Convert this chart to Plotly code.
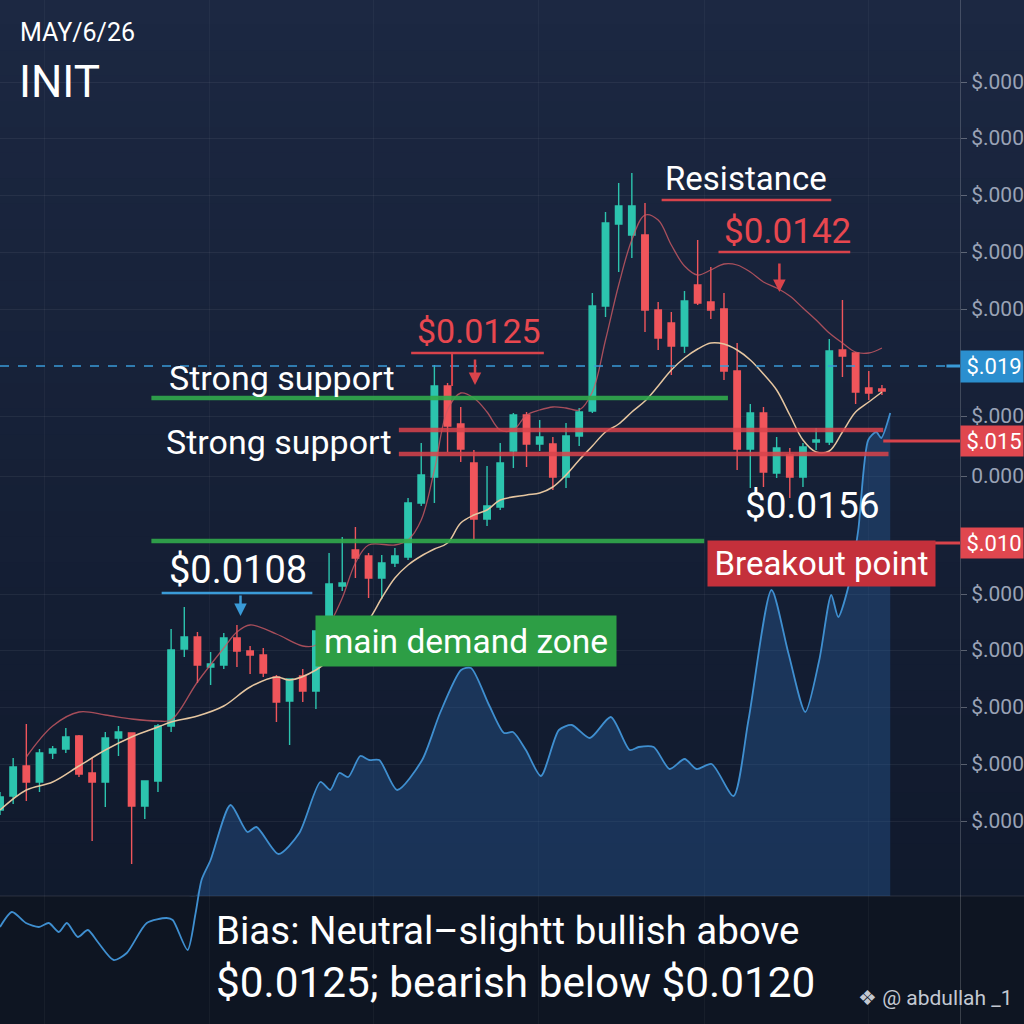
import plotly.graph_objects as go
import numpy as np

# ---- candles (one per bar, index 0..67), prices in $ ----
bars = list(range(68))

opens = [0.01190, 0.01204, 0.01234, 0.01218, 0.01247, 0.01251, 0.01264, 0.01227, 0.01218, 0.01262,
         0.01267, 0.01194, 0.01219, 0.01274, 0.01351, 0.01363, 0.01333, 0.01335, 0.01362, 0.01349,
         0.01345, 0.01323, 0.01299, 0.01324, 0.01309, 0.01383, 0.01414, 0.01450, 0.01444, 0.01422,
         0.01437, 0.01443, 0.01497, 0.01523, 0.01614, 0.01576, 0.01537, 0.01481, 0.01493, 0.01549,
         0.01585, 0.01556, 0.01556, 0.01523, 0.01564, 0.01589, 0.01694, 0.01776, 0.01765, 0.01765,
         0.01690, 0.01677, 0.01654, 0.01715, 0.01698, 0.01691, 0.01629, 0.01551, 0.01587, 0.01527,
         0.01545, 0.01523, 0.01558, 0.01558, 0.01650, 0.01647, 0.01612, 0.01611]

highs = [0.01208, 0.01242, 0.01276, 0.01251, 0.01254, 0.01272, 0.01265, 0.01242, 0.01268, 0.01274,
         0.01267, 0.01219, 0.01276, 0.01371, 0.01393, 0.01368, 0.01348, 0.01367, 0.01375, 0.01354,
         0.01352, 0.01325, 0.01321, 0.01331, 0.01369, 0.01447, 0.01463, 0.01473, 0.01447, 0.01445,
         0.01452, 0.01502, 0.01557, 0.01635, 0.01617, 0.01593, 0.01550, 0.01534, 0.01557, 0.01587,
         0.01588, 0.01580, 0.01563, 0.01577, 0.01592, 0.01707, 0.01788, 0.01817, 0.01827, 0.01797,
         0.01698, 0.01688, 0.01709, 0.01760, 0.01733, 0.01707, 0.01657, 0.01596, 0.01593, 0.01563,
         0.01552, 0.01557, 0.01572, 0.01661, 0.01700, 0.01648, 0.01629, 0.01615]

lows = [0.01185, 0.01196, 0.01199, 0.01208, 0.01241, 0.01247, 0.01223, 0.01159, 0.01193, 0.01244,
        0.01136, 0.01181, 0.01208, 0.01268, 0.01343, 0.01317, 0.01315, 0.01331, 0.01333, 0.01326,
        0.01323, 0.01278, 0.01255, 0.01298, 0.01291, 0.01383, 0.01409, 0.01422, 0.01402, 0.01401,
        0.01433, 0.01440, 0.01494, 0.01497, 0.01548, 0.01538, 0.01460, 0.01474, 0.01490, 0.01532,
        0.01533, 0.01549, 0.01510, 0.01512, 0.01554, 0.01587, 0.01683, 0.01728, 0.01742, 0.01668,
        0.01650, 0.01625, 0.01647, 0.01695, 0.01681, 0.01620, 0.01530, 0.01512, 0.01513, 0.01522,
        0.01502, 0.01513, 0.01550, 0.01555, 0.01623, 0.01596, 0.01600, 0.01605]

closes = [0.01203, 0.01233, 0.01218, 0.01247, 0.01251, 0.01263, 0.01226, 0.01218, 0.01262, 0.01268,
          0.01194, 0.01219, 0.01274, 0.01350, 0.01363, 0.01335, 0.01336, 0.01362, 0.01349, 0.01345,
          0.01327, 0.01298, 0.01321, 0.01309, 0.01369, 0.01416, 0.01417, 0.01442, 0.01422, 0.01437,
          0.01444, 0.01497, 0.01525, 0.01614, 0.01574, 0.01551, 0.01481, 0.01494, 0.01537, 0.01585,
          0.01556, 0.01563, 0.01523, 0.01564, 0.01588, 0.01694, 0.01777, 0.01794, 0.01794, 0.01690,
          0.01662, 0.01654, 0.01699, 0.01697, 0.01690, 0.01629, 0.01551, 0.01587, 0.01528, 0.01552,
          0.01523, 0.01553, 0.01560, 0.01649, 0.01644, 0.01608, 0.01607, 0.01609]

# ---- moving averages ----
fast_ma_x = [2, 4, 6, 8, 10, 12, 13, 15, 17, 18, 19, 21, 23, 24, 25, 26, 27, 28, 30, 31, 32, 33, 34,
             35, 36, 37, 38, 39, 40, 41, 42, 43, 44, 45, 46, 47, 48, 49, 50, 51, 52, 53, 54, 55, 56,
             57, 58, 59, 60, 61, 62, 63, 64, 65, 66, 67]
fast_ma = [0.01243, 0.01274, 0.01288, 0.01285, 0.01281, 0.01279, 0.01280, 0.01318, 0.01352, 0.01368,
           0.01375, 0.01366, 0.01354, 0.01355, 0.01375, 0.01402, 0.01437, 0.01455, 0.01455, 0.01460,
           0.01480, 0.01530, 0.01590, 0.01607, 0.01602, 0.01588, 0.01570, 0.01570, 0.01585, 0.01590,
           0.01593, 0.01592, 0.01590, 0.01608, 0.01660, 0.01715, 0.01760, 0.01785, 0.01780, 0.01755,
           0.01734, 0.01725, 0.01730, 0.01736, 0.01735, 0.01728, 0.01718, 0.01712, 0.01704, 0.01692,
           0.01680, 0.01667, 0.01657, 0.01648, 0.01647, 0.01652]

slow_ma_x = [0, 2, 4, 6, 8, 10, 12, 13, 15, 17, 19, 21, 22, 24, 26, 28, 29, 30, 31, 32, 33, 34, 35,
             36, 37, 38, 40, 41, 42, 43, 44, 45, 46, 47, 48, 49, 50, 51, 52, 53, 54, 55, 56, 57, 58,
             59, 60, 61, 62, 63, 64, 65, 66, 67]
slow_ma = [0.01190, 0.01210, 0.01218, 0.01234, 0.01250, 0.01263, 0.01273, 0.01278, 0.01284, 0.01294,
           0.01313, 0.01323, 0.01320, 0.01330, 0.01352, 0.01380, 0.01402, 0.01422, 0.01435, 0.01444,
           0.01451, 0.01457, 0.01477, 0.01485, 0.01490, 0.01500, 0.01505, 0.01507, 0.01513, 0.01525,
           0.01540, 0.01554, 0.01568, 0.01576, 0.01588, 0.01599, 0.01614, 0.01630, 0.01642, 0.01651,
           0.01657, 0.01656, 0.01650, 0.01640, 0.01626, 0.01610, 0.01585, 0.01560, 0.01548, 0.01549,
           0.01568, 0.01588, 0.01598, 0.01608]

# ---- overlay (volume-like area), own hidden axis ----
flow_x = [0.00, 0.91, 1.97, 2.96, 3.71, 4.47, 5.08, 5.91, 6.67, 7.43, 8.64, 9.63, 11.15, 12.66, 13.12,
          14.25, 14.86, 15.31, 16.00, 17.51, 18.80, 19.48, 21.15, 22.74, 24.34, 25.09, 25.78, 26.46,
          27.37, 28.05, 28.81, 30.17, 32.07, 33.43, 35.03, 35.78, 37.15, 38.29, 38.97, 39.95, 41.09,
          42.46, 43.44, 44.81, 46.40, 47.84, 48.52, 49.66, 50.87, 52.01, 52.92, 54.06, 55.72, 56.86,
          58.61, 59.89, 61.18, 62.24, 63.15, 63.68, 64.52, 65.20, 65.96, 66.57, 66.94, 67.63]
flow = [-3.1, -1.6, -2.7, -3.1, -2.7, -3.6, -2.7, -4.1, -3.4, -4.6, -6.4, -5.7, -2.7, -2.2, -2.4,
        -5.4, -1.7, 1.6, 3.6, 9.1, 6.4, 6.9, 4.2, 6.3, 11.4, 10.6, 12.3, 11.9,
        14.0, 13.6, 13.6, 10.6, 13.6, 18.3, 22.6, 22.8, 19.1, 16.3, 16.4, 14.6, 12.0,
        16.6, 17.1, 15.8, 17.9, 14.6, 14.9, 14.9, 12.7, 13.7, 12.7, 13.2, 10.0, 17.6,
        30.6, 24.3, 18.4, 23.6, 30.1, 27.9, 31.3, 36.6, 45.6, 46.4, 45.8, 48.3]

# ---- price levels ----
green_levels = [0.01602, 0.01459]
red_levels = [0.01570, 0.01546]
last_price = 0.01634
red_tag_levels = [0.01559, 0.01457]

axis_ticks = [0.01918, 0.01862, 0.01805, 0.01748, 0.01691, 0.01584, 0.01524,
              0.01406, 0.01350, 0.01293, 0.01236, 0.01179]
axis_labels = ["$.000", "$.000", "$.000", "$.000", "$.000", "$.000", "0.000",
               "$.000", "$.000", "$.000", "$.000", "$.000"]

GREEN = "#2cc4ae"
RED = "#f0555b"
RED_TXT = "#e8474f"
BLUE = "#3a9bd8"
LINE_GREEN = "#31aa4c"
LINE_RED = "#d8434b"
FONT = "Roboto"

W, H = 962, 1024   # plot area in pixels (right margin holds the price axis)
X_MAX = 72.93


def px(x):
    return x / W


def py(y):
    return 1 - y / H


fig = go.Figure()

# overlay area: fill clipped at its baseline, raw line on top
fig.add_trace(go.Scatter(x=flow_x, y=np.maximum(np.array(flow), 0), mode="lines",
                         line=dict(width=0, shape="spline", smoothing=0.7),
                         fill="tozeroy", fillcolor="rgba(42,100,165,0.35)",
                         yaxis="y", hoverinfo="skip", showlegend=False))
fig.add_trace(go.Scatter(x=flow_x, y=flow, mode="lines",
                         line=dict(color="#3f8fd0", width=1.8, shape="spline", smoothing=0.7),
                         yaxis="y", hoverinfo="skip", showlegend=False))

fig.add_trace(go.Candlestick(x=bars, open=opens, high=highs, low=lows, close=closes,
                             increasing=dict(line=dict(color=GREEN, width=1.4), fillcolor=GREEN),
                             decreasing=dict(line=dict(color=RED, width=1.4), fillcolor=RED),
                             whiskerwidth=0, yaxis="y2", showlegend=False))

fig.add_trace(go.Scatter(x=fast_ma_x, y=fast_ma, mode="lines",
                         line=dict(color="rgba(205,90,100,0.8)", width=1.3, shape="spline"),
                         yaxis="y2", showlegend=False))
fig.add_trace(go.Scatter(x=slow_ma_x, y=slow_ma, mode="lines",
                         line=dict(color="#e6c6a0", width=1.5, shape="spline"),
                         yaxis="y2", showlegend=False))

shapes = []
# background gradient
n_band = 40
top_c = np.array([28, 40, 66])
bot_c = np.array([15, 24, 42])
for k in range(n_band):
    c = top_c + (bot_c - top_c) * k / (n_band - 1)
    shapes.append(dict(type="rect", xref="paper", yref="paper", x0=0, x1=1.08,
                       y0=1 - (k + 1) / n_band, y1=1 - k / n_band + 0.001,
                       fillcolor="rgb(%d,%d,%d)" % tuple(c), line=dict(width=0), layer="below"))
# bottom caption panel
shapes.append(dict(type="rect", xref="paper", yref="paper", x0=0, x1=1.08, y0=0, y1=py(896),
                   fillcolor="#0e1522", line=dict(width=0), layer="below"))
shapes.append(dict(type="line", xref="paper", yref="paper", x0=0, x1=1.08, y0=py(896), y1=py(896),
                   line=dict(color="rgba(255,255,255,0.12)", width=1), layer="below"))

# support / resistance levels
shapes.append(dict(type="line", xref="x", yref="y2", x0=11.5, x1=55.3,
                   y0=green_levels[0], y1=green_levels[0],
                   line=dict(color=LINE_GREEN, width=4.5), opacity=0.9))
shapes.append(dict(type="line", xref="x", yref="y2", x0=11.5, x1=53.5,
                   y0=green_levels[1], y1=green_levels[1],
                   line=dict(color=LINE_GREEN, width=4.5), opacity=0.9))
shapes.append(dict(type="line", xref="x", yref="y2", x0=30.3, x1=67.1,
                   y0=red_levels[0], y1=red_levels[0],
                   line=dict(color=LINE_RED, width=4.5), opacity=0.85))
shapes.append(dict(type="line", xref="x", yref="y2", x0=30.3, x1=67.5,
                   y0=red_levels[1], y1=red_levels[1],
                   line=dict(color=LINE_RED, width=4.5), opacity=0.85))
shapes.append(dict(type="line", xref="x", yref="y2", x0=67.1, x1=X_MAX,
                   y0=red_tag_levels[0], y1=red_tag_levels[0],
                   line=dict(color=LINE_RED, width=3)))
shapes.append(dict(type="line", xref="x", yref="y2", x0=71.0, x1=X_MAX,
                   y0=red_tag_levels[1], y1=red_tag_levels[1],
                   line=dict(color=LINE_RED, width=3)))
shapes.append(dict(type="line", xref="x", yref="y2", x0=0, x1=X_MAX,
                   y0=last_price, y1=last_price,
                   line=dict(color=BLUE, width=1.3, dash="dash")))
shapes.append(dict(type="line", xref="x", yref="y2", x0=71.9, x1=X_MAX,
                   y0=last_price, y1=last_price,
                   line=dict(color=BLUE, width=3)))

# underlines of the callouts
for x0, x1, y, col in [(663, 833, 200, LINE_RED), (720, 852, 252, LINE_RED),
                       (412, 545, 353, LINE_RED), (162, 313, 593, BLUE)]:
    shapes.append(dict(type="line", xref="paper", yref="paper", x0=px(x0), x1=px(x1),
                       y0=py(y), y1=py(y), line=dict(color=col, width=2.5)))
shapes.append(dict(type="line", xref="paper", yref="paper", x0=px(453), x1=px(453),
                   y0=py(353), y1=py(386), line=dict(color=LINE_RED, width=2)))

ann = []


def text(x, y, s, size, color="white", anchor="center", **kw):
    ann.append(dict(x=px(x), y=py(y), xref="paper", yref="paper", text=s, showarrow=False,
                    xanchor=anchor, yanchor="middle",
                    font=dict(family=FONT, size=size, color=color), **kw))


def arrow(x, y, length, color):
    ann.append(dict(x=px(x), y=py(y), xref="paper", yref="paper", text="", showarrow=True,
                    ax=0, ay=-length, arrowhead=2, arrowsize=1, arrowwidth=2.5,
                    arrowcolor=color))


text(18, 32, "MAY/6/26", 25, anchor="left")
text(17, 82, "INIT", 44, anchor="left")
text(748, 178, "Resistance", 33)
text(789, 231, "$0.0142", 35, RED_TXT)
text(480, 331, "$0.0125", 34, RED_TXT)
text(167, 378, "Strong support", 34, anchor="left")
text(164, 442, "Strong support", 34, anchor="left")
text(238, 570, "$0.0108", 38)
text(814, 505, "$0.0156", 37)
text(467, 641, "main demand zone", 33.5, bgcolor="#2d9e45", width=300, height=50, borderpad=0)
text(823, 563, "Breakout point", 33, bgcolor="#c4303b", width=227, height=45, borderpad=0)
text(214, 930, "Bias: Neutral\u2013slightt bullish above", 38.5, anchor="left")
text(214, 982, "$0.0125; bearish below $0.0120", 42.3, anchor="left")
text(1017, 998, "\u2756 @ abdullah _1", 21, "#c3c8d2", anchor="right")

text(962, 366, " $.019", 22, anchor="left", bgcolor="#2b8fcf", width=62, height=31, borderpad=0,
     align="left")
text(962, 441, " $.015", 22, anchor="left", bgcolor="#e0474f", width=62, height=30, borderpad=0,
     align="left")
text(962, 543, " $.010", 22, anchor="left", bgcolor="#e0474f", width=62, height=30, borderpad=0,
     align="left")

arrow(781, 292, 30, LINE_RED)
arrow(476, 385, 27, LINE_RED)
arrow(241, 616, 22, BLUE)

fig.update_layout(
    width=1024, height=1024,
    margin=dict(l=0, r=62, t=0, b=0),
    paper_bgcolor="#131d31", plot_bgcolor="rgba(0,0,0,0)",
    showlegend=False,
    shapes=shapes, annotations=ann,
    xaxis=dict(range=[0, X_MAX], rangeslider=dict(visible=False), showticklabels=False,
               tickvals=[3.4, 15.9, 28.4, 40.9, 53.5, 66.0],
               showgrid=True, gridcolor="rgba(255,255,255,0.04)", zeroline=False),
    yaxis=dict(range=[-12.8, 89.6], visible=False, showgrid=False, zeroline=False),
    yaxis2=dict(range=[0.00976, 0.02000], overlaying="y", side="right",
                tickvals=axis_ticks, ticktext=axis_labels,
                tickfont=dict(family=FONT, size=21, color="#9aa3b6"),
                ticks="outside", ticklen=6, tickcolor="rgba(255,255,255,0.3)",
                showgrid=True, gridcolor="rgba(255,255,255,0.06)", zeroline=False,
                showline=True, linecolor="rgba(255,255,255,0.18)", linewidth=1),
)

fig.write_html("out.html", config={"displayModeBar": False},
               post_script="document.body.style.margin='0';document.body.style.background='#101a2d';")
